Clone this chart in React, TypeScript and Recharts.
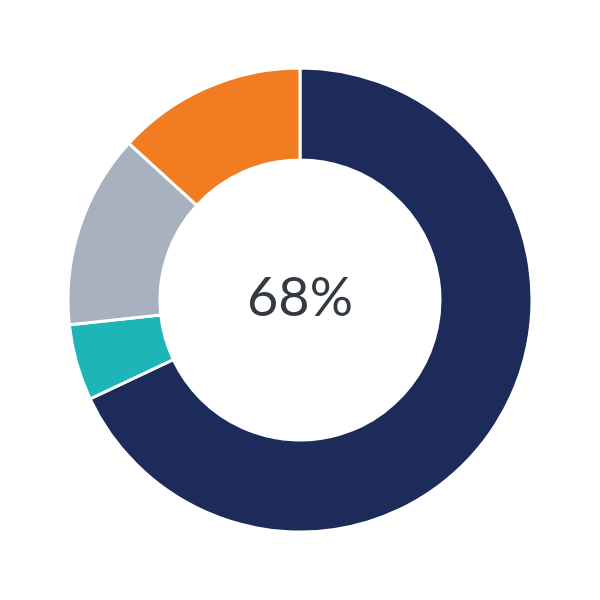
import React from "react";
import { PieChart, Pie, Cell } from "recharts";

const categories = ["Navy", "Teal", "Gray", "Orange"];
const values = [68, 5.3, 13.5, 13.2];
const colors = ["#1c2b5a", "#1cb5b8", "#a7b1bf", "#f27c21"];
const centerLabel = "68%";

const data = categories.map((name, i) => ({ name, value: values[i] }));

export default function App() {
  return (
    <div style={{ width: 584, height: 584 }}>
      <PieChart
        width={584}
        height={584}
        margin={{ top: 0, right: 0, bottom: 0, left: 0 }}
      >
        <Pie
          data={data}
          dataKey="value"
          nameKey="name"
          cx={292}
          cy={292}
          innerRadius={140}
          outerRadius={232}
          startAngle={90}
          endAngle={-270}
          stroke="#ffffff"
          strokeWidth={3}
          isAnimationActive={false}
        >
          {data.map((d, i) => (
            <Cell key={d.name} fill={colors[i]} />
          ))}
        </Pie>
        <text
          x={292}
          y={287}
          textAnchor="middle"
          dominantBaseline="central"
          fontFamily="Lato, 'Open Sans', sans-serif"
          fontWeight={400}
          fontSize={54}
          fill="#333a42"
        >
          {centerLabel}
        </text>
      </PieChart>
    </div>
  );
}
